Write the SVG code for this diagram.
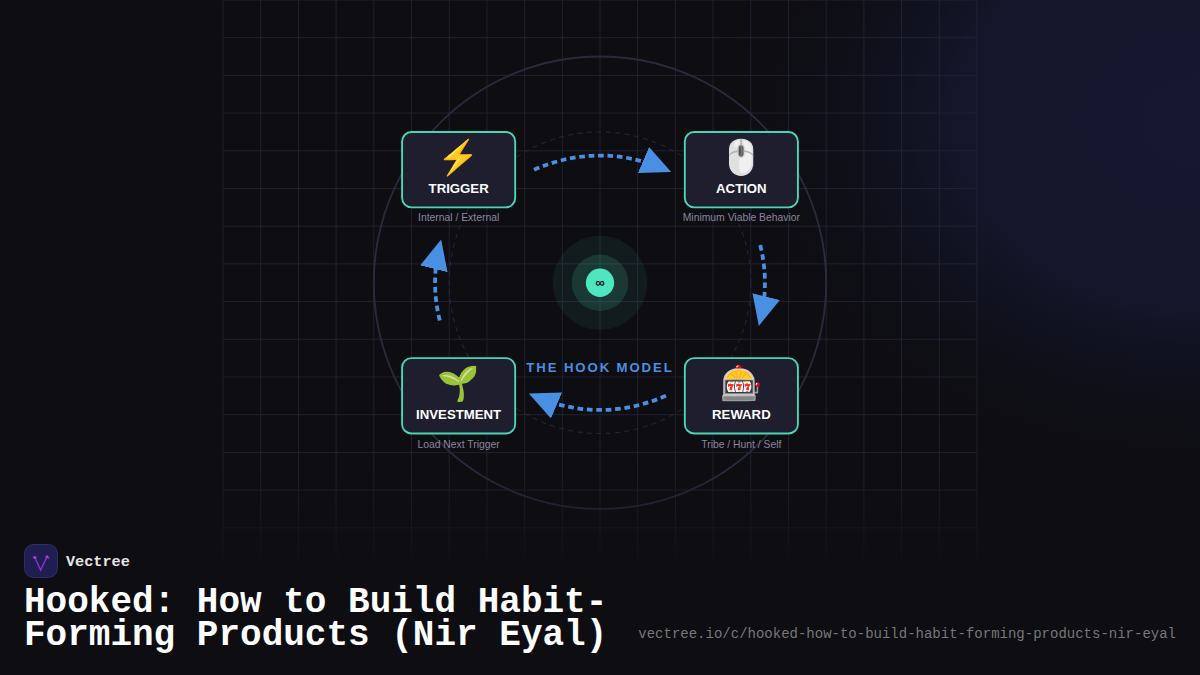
<svg xmlns="http://www.w3.org/2000/svg" width="1200" height="675" viewBox="0 0 1200 675">
<defs>
<radialGradient id="glow" gradientUnits="userSpaceOnUse" cx="0" cy="0" r="1" gradientTransform="translate(1200 120) scale(480 370)">
<stop offset="0" stop-color="#15182f"/><stop offset="0.5" stop-color="#14162b"/><stop offset="1" stop-color="#0e0e14" stop-opacity="0"/>
</radialGradient>
<linearGradient id="fade" x1="0" y1="0" x2="0" y2="1">
<stop offset="0" stop-color="#0d0d12" stop-opacity="0"/><stop offset="1" stop-color="#0d0d12"/>
</linearGradient>
<marker id="head" markerUnits="userSpaceOnUse" viewBox="0 0 32 30" markerWidth="32" markerHeight="30" refX="26" refY="15" orient="auto"><path d="M0 0L32 15L0 30Z" fill="#4a90e2"/></marker>
</defs>
<style>
.box{fill:#1e1e2e;stroke:#4ad6b4;stroke-width:2}
.emoji{font-family:"Noto Color Emoji","Noto Sans",sans-serif;font-size:36px;text-anchor:middle}
.label{font-family:"Liberation Sans",Arial,sans-serif;font-size:14px;font-weight:700;fill:#fff;text-anchor:middle}
.sub{font-family:"Liberation Sans",Arial,sans-serif;font-size:11px;fill:#8888a0;text-anchor:middle}
.flow{fill:none;stroke:#4a90e2;stroke-width:4;stroke-dasharray:6 4;marker-end:url(#head)}
.mono{font-family:"Liberation Mono","Courier New",monospace}
</style>
<rect width="1200" height="675" fill="#0d0d12"/>
<rect width="1200" height="675" fill="url(#glow)"/>
<g transform="translate(223 0) scale(.9425)">
<path fill="none" stroke="#222234" stroke-width="1" d="M0 0H800M0 40H800M0 80H800M0 120H800M0 160H800M0 200H800M0 240H800M0 280H800M0 320H800M0 360H800M0 400H800M0 440H800M0 480H800M0 520H800M0 560H800M0 600H800M0 0V600M40 0V600M80 0V600M120 0V600M160 0V600M200 0V600M240 0V600M280 0V600M320 0V600M360 0V600M400 0V600M440 0V600M480 0V600M520 0V600M560 0V600M600 0V600M640 0V600M680 0V600M720 0V600M760 0V600M800 0V600"/>
<circle cx="400" cy="300" r="240" fill="none" stroke="#2a2a3e" stroke-width="2"/>
<circle cx="400" cy="300" r="160" fill="none" stroke="#2a2a3e" stroke-width="1" stroke-dasharray="5 5"/>
<g id="hub">
<circle cx="400" cy="300" r="50" fill="#4ee6c0" opacity=".07"/>
<circle cx="400" cy="300" r="30" fill="#4ee6c0" opacity=".14"/>
<circle cx="400" cy="300" r="15" fill="#4ee6c0"/>
<text x="400" y="305" text-anchor="middle" font-family="Liberation Sans,sans-serif" font-size="14" font-weight="700" fill="#0d0d12">∞</text>
</g>
<g id="connectors">
<path class="flow" d="M330 180Q400 150 470 180"/>
<path class="flow" d="M570 260Q580 300 570 340"/>
<path class="flow" d="M470 420Q400 450 330 420"/>
<path class="flow" d="M230 340Q220 300 230 260"/>
</g>
<g id="trigger"><rect class="box" x="190" y="140" width="120" height="80" rx="10"/><text class="emoji" x="250" y="179">⚡</text><text class="label" x="250" y="205">TRIGGER</text><text class="sub" x="250" y="235">Internal / External</text></g>
<g id="action"><rect class="box" x="490" y="140" width="120" height="80" rx="10"/><text class="emoji" x="550" y="179">🖱️</text><text class="label" x="550" y="205">ACTION</text><text class="sub" x="550" y="235">Minimum Viable Behavior</text></g>
<g id="reward"><rect class="box" x="490" y="380" width="120" height="80" rx="10"/><text class="emoji" x="550" y="419">🎰</text><text class="label" x="550" y="445">REWARD</text><text class="sub" x="550" y="475">Tribe / Hunt / Self</text></g>
<g id="investment"><rect class="box" x="190" y="380" width="120" height="80" rx="10"/><text class="emoji" x="250" y="419">🌱</text><text class="label" x="250" y="445">INVESTMENT</text><text class="sub" x="250" y="475">Load Next Trigger</text></g>
<text x="400" y="395" text-anchor="middle" font-family="Liberation Sans,sans-serif" font-size="14" font-weight="700" letter-spacing="2" fill="#4a90e2">THE HOOK MODEL</text>
</g>
<rect y="470" width="1200" height="105" fill="url(#fade)"/>
<rect y="575" width="1200" height="100" fill="#0d0d12"/>
<g id="logo">
<rect x="24.500" y="544.500" width="33" height="33" rx="9" fill="#201e50" stroke="#312e66"/>
<path d="M35 558L40.700 570L46.800 557M35 558L33 557M46.800 557L49.500 558.500" fill="none" stroke="#8b2fd6" stroke-width="1.400"/>
<circle cx="35" cy="557.500" r="1.500" fill="#b03adf"/><circle cx="47" cy="556.800" r="1.500" fill="#b03adf"/>
</g>
<text class="mono" x="66" y="565.500" font-size="15.200" font-weight="700" fill="#e5e5e5">Vectree</text>
<text class="mono" x="24" y="612" font-size="36" font-weight="700" fill="#fff">Hooked: How to Build Habit-</text>
<text class="mono" x="24" y="645" font-size="36" font-weight="700" fill="#fff">Forming Products (Nir Eyal)</text>
<text class="mono" x="1176" y="638" font-size="14" fill="#777" text-anchor="end">vectree.io/c/hooked-how-to-build-habit-forming-products-nir-eyal</text>
</svg>
